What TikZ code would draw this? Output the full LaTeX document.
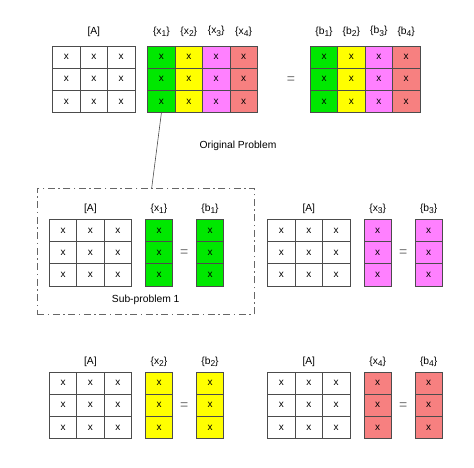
\documentclass[tikz,border=0pt]{standalone}
\usepackage{fontspec}
\setmainfont{Liberation Sans}
\usepackage{tikz}
\usetikzlibrary{positioning}
\definecolor{xgreen}{RGB}{0,232,0}
\definecolor{xyellow}{RGB}{255,255,0}
\definecolor{xviolet}{RGB}{255,128,255}
\definecolor{xsalmon}{RGB}{247,128,128}
\newcommand{\vsub}[1]{\raisebox{-0.45ex}{\fontsize{8.5}{9}\selectfont #1}}
% 3x3 matrix of x, #1 name, #2 left, #3 top
\newcommand{\amatrix}[3]{%
  \foreach \r in {1,2,3} \foreach \c in {1,2,3}
    \node[cell] (#1-\r\c) at ({#2+(\c-0.5)*27.4},{#3+(\r-0.5)*22.2}) {x};}
% column of three x, #1 name, #2 left, #3 top, #4 colour
\newcommand{\vcolumn}[4]{%
  \foreach \r in {1,2,3}
    \node[cell,fill=#4] (#1-\r) at ({#2+13.7},{#3+(\r-0.5)*22.2}) {x};}
\begin{document}
\begin{tikzpicture}[x=1pt,y=-1pt,
  cell/.style={draw=black!70,line width=0.6pt,minimum width=27.4pt,minimum height=22.2pt,inner sep=0pt,font=\fontsize{10}{11}\selectfont},
  lbl/.style={inner sep=1pt,font=\fontsize{10.3}{11}\selectfont},
  eqsign/.style={text=black!55,font=\fontsize{14}{14}\selectfont,inner sep=0pt},
  subbox/.style={draw=black!60,line width=0.8pt,dash pattern=on 7pt off 3.5pt on 1.5pt off 3.5pt,minimum width=216.7pt,minimum height=126.7pt,inner sep=0pt}]
\useasboundingbox (0,0) rectangle (474,467);
% original problem
\amatrix{tA}{52.7}{46}
\vcolumn{tx1}{147.7}{46}{xgreen}
\vcolumn{tx2}{175.1}{46}{xyellow}
\vcolumn{tx3}{202.5}{46}{xviolet}
\vcolumn{tx4}{229.9}{46}{xsalmon}
\vcolumn{tb1}{310.3}{46}{xgreen}
\vcolumn{tb2}{337.7}{46}{xyellow}
\vcolumn{tb3}{365.1}{46}{xviolet}
\vcolumn{tb4}{392.5}{46}{xsalmon}
\node[lbl,above=8pt of tA-12] {[A]};
\node[lbl,above=8pt of tx1-1] {\{x\vsub{1}\}};
\node[lbl,above=8pt of tx2-1] {\{x\vsub{2}\}};
\node[lbl,above=8pt of tx3-1] {\{x\vsub{3}\}};
\node[lbl,above=8pt of tx4-1] {\{x\vsub{4}\}};
\node[lbl,above=8pt of tb1-1] {\{b\vsub{1}\}};
\node[lbl,above=8pt of tb2-1] {\{b\vsub{2}\}};
\node[lbl,above=8pt of tb3-1] {\{b\vsub{3}\}};
\node[lbl,above=8pt of tb4-1] {\{b\vsub{4}\}};
\node[eqsign] (teq) at (291,80) {=};
\node[lbl] (orig) at (238,145.7) {Original Problem};
% sub-problems
\node[subbox] (sub1) at (145.7,251.3) {};
\node[lbl] (sub1txt) at (145.7,300) {Sub-problem 1};
\coordinate (cut) at (151.7,188);
\draw[black!70,line width=0.6pt] (tx1-3.south) -- (cut);
\amatrix{sA1}{49.3}{219.3}
\vcolumn{sx1}{145.3}{219.3}{xgreen}
\vcolumn{sb1}{196.3}{219.3}{xgreen}
\node[eqsign] (seq1) at (184.3,253.3) {=};
\amatrix{sA3}{267.7}{219.3}
\vcolumn{sx3}{364}{219.3}{xviolet}
\vcolumn{sb3}{415}{219.3}{xviolet}
\node[eqsign] (seq3) at (403.3,253.3) {=};
\amatrix{sA2}{49.3}{372}
\vcolumn{sx2}{145.3}{372}{xyellow}
\vcolumn{sb2}{196.3}{372}{xyellow}
\node[eqsign] (seq2) at (184.3,406) {=};
\amatrix{sA4}{267.7}{372}
\vcolumn{sx4}{364}{372}{xsalmon}
\vcolumn{sb4}{415}{372}{xsalmon}
\node[eqsign] (seq4) at (403.3,406) {=};
\foreach \k in {1,2,3,4} {
  \node[lbl,above=4pt of sA\k-12] {[A]};
  \node[lbl,above=4pt of sx\k-1] {\{x\vsub{\k}\}};
  \node[lbl,above=4pt of sb\k-1] {\{b\vsub{\k}\}};
}
\end{tikzpicture}
\end{document}
